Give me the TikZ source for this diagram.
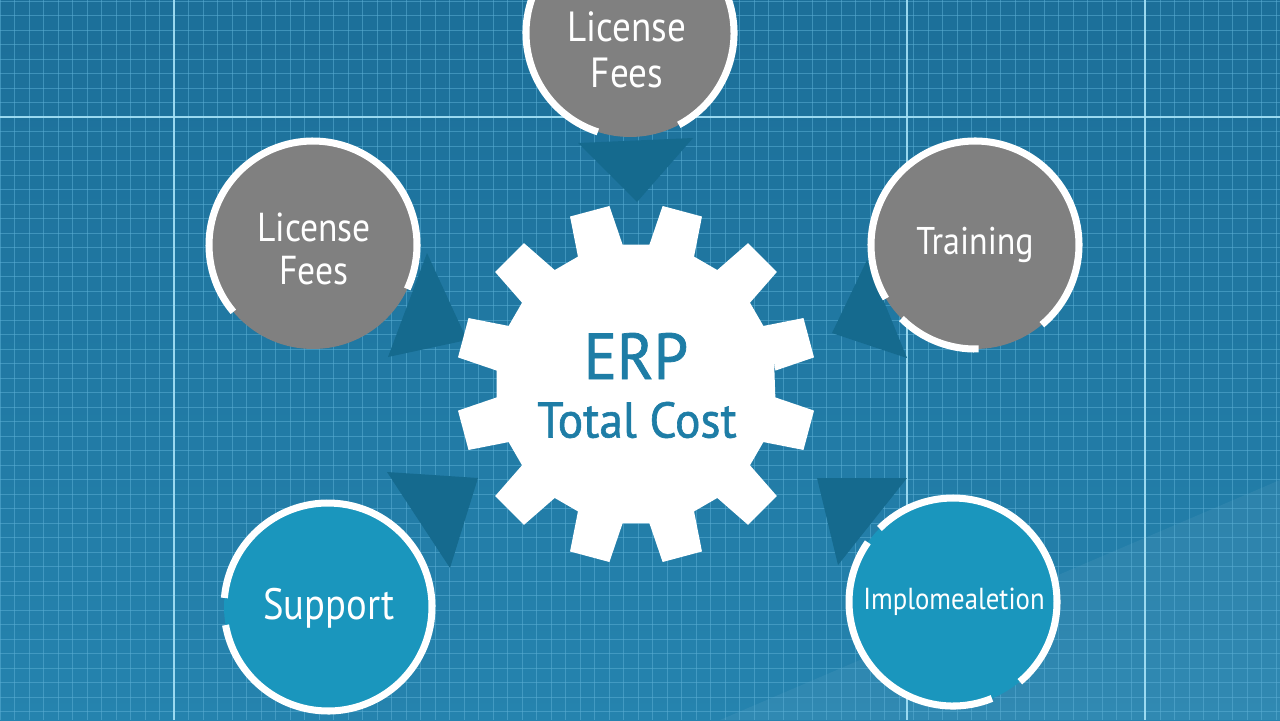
\documentclass[tikz,border=0pt]{standalone}
\usepackage{fontspec}
\setmainfont{PT Sans}
\newfontfamily\condfont[FakeStretch=0.88]{PT Sans}
\newfontfamily\gearfont[FakeStretch=0.95,FakeBold=1.2]{PT Sans}
\definecolor{bgtop}{HTML}{1C6F99}
\definecolor{bgbot}{HTML}{2583AE}
\definecolor{gminor}{HTML}{5AAED4}
\definecolor{gmajor}{HTML}{A6E2F7}
\definecolor{grayc}{HTML}{808080}
\definecolor{tealc}{HTML}{1A96BD}
\definecolor{arrowc}{HTML}{156A8E}
\definecolor{gtext}{HTML}{1E7DA6}
\tikzset{
  minorline/.style={draw=gminor, line width=0.5pt, opacity=0.55},
  majorline/.style={draw=gmajor, line width=0.9pt, opacity=0.9},
  graycirc/.style={circle, fill=grayc, minimum size=4.16cm, inner sep=0pt},
  tealcirc/.style={circle, fill=tealc, minimum size=4.16cm, inner sep=0pt},
  rim/.style={draw=white, line width=4pt},
  ctext/.style={text=white, align=center, inner sep=0pt},
  tri/.style={fill=arrowc},
}
\begin{document}
\begin{tikzpicture}[x=0.02cm,y=-0.02cm]
\useasboundingbox (0,0) rectangle (1280,720);
\shade[top color=bgtop, bottom color=bgbot] (0,0) rectangle (1280,720);
\fill[white, opacity=0.05] (720,720) -- (1280,480) -- (1280,720) -- cycle;
% grid
\foreach \i in {-12,...,76} \draw[minorline] ({174+14.5*\i},0) -- ({174+14.5*\i},720);
\foreach \j in {-8,...,41} \draw[minorline] (0,{117+14.5*\j}) -- (1280,{117+14.5*\j});
\draw[majorline] (174,0) -- (174,720);
\draw[majorline] (907,0) -- (907,720);
\draw[majorline] (1145,0) -- (1145,720);
\draw[majorline] (0,117) -- (1280,117);

% arrows (triangles)
\fill[tri] (578,143) -- (693,138) -- (637,202) -- cycle;
\fill[tri] (427,253) -- (467,340) -- (388,357) -- cycle;
\fill[tri] (867,260) -- (832,333) -- (907,358) -- cycle;
\fill[tri] (387,472) -- (478,478) -- (450,568) -- cycle;
\fill[tri] (817,478) -- (907,478) -- (838,565) -- cycle;

% gear
\begin{scope}[shift={(636,384)}]
\fill[white] (-9.5:140)
  \foreach \k in {0,...,11} {
    -- ({15+30*\k-9.5}:140) -- ({15+30*\k-6.5}:180) -- ({15+30*\k+6.5}:180) -- ({15+30*\k+9.5}:140)
  } -- cycle;
\end{scope}
\node[text=gtext, font=\gearfont\fontsize{37}{40}\selectfont, inner sep=0pt] (erp) at (636,356) {ERP};
\node[text=gtext, font=\gearfont\fontsize{28.5}{30}\selectfont, inner sep=0pt] (tc) at (637,420) {Total Cost};

% circles
\node[graycirc] (lftop) at (630,33) {};
\draw[rim] ([shift={(108:104)}]lftop.center) arc[start angle=108, end angle=422, radius=104];
\node[ctext, font=\condfont\fontsize{24}{26}\selectfont] (lftopt) at (627,50) {License\\Fees};

\node[graycirc] (lfl) at (313,245) {};
\draw[rim] ([shift={(140:104)}]lfl.center) arc[start angle=140, end angle=385, radius=104];
\node[ctext, font=\condfont\fontsize{23}{24}\selectfont] (lflt) at (314,249) {License\\Fees};

\node[graycirc] (tr) at (975,245) {};
\draw[rim] ([shift={(149:104)}]tr.center) arc[start angle=149, end angle=410, radius=104];
\draw[rim] ([shift={(88:104)}]tr.center) arc[start angle=88, end angle=135, radius=104];
\node[ctext, font=\condfont\fontsize{22}{24}\selectfont] (trt) at (975,245) {Training};

\node[tealcirc] (sup) at (328,607) {};
\draw[rim] ([shift={(185:104)}]sup.center) arc[start angle=185, end angle=530, radius=104];
\node[ctext, font=\condfont\fontsize{25}{28}\selectfont] (supt) at (329,608) {Support};

\node[tealcirc] (imp) at (953,602) {};
\draw[rim] ([shift={(225:104)}]imp.center) arc[start angle=225, end angle=410, radius=104];
\draw[rim] ([shift={(68:104)}]imp.center) arc[start angle=68, end angle=215, radius=104];
\node[ctext, font=\condfont\fontsize{17.3}{18}\selectfont] (impt) at (954,602) {Implomealetion};
\end{tikzpicture}
\end{document}
